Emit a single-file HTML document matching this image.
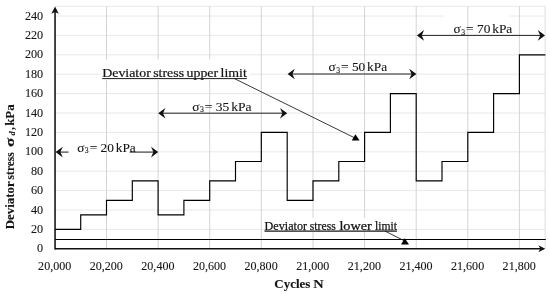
<!DOCTYPE html><html><head><meta charset="utf-8"><title>Chart</title><style>html,body{margin:0;padding:0;background:#fff}svg{display:block}text{font-family:"Liberation Serif",serif;fill:#151515;stroke:#151515;stroke-width:.1px}</style></head><body>
<svg width="550" height="294" viewBox="0 0 550 294">
<rect width="550" height="294" fill="#fff"/>
<g><line x1="54.9" x2="545.4" y1="229.4" y2="229.4" stroke="#e8e8e8" stroke-width="1"/><line x1="54.9" x2="545.4" y1="210.0" y2="210.0" stroke="#e8e8e8" stroke-width="1"/><line x1="54.9" x2="545.4" y1="190.6" y2="190.6" stroke="#e8e8e8" stroke-width="1"/><line x1="54.9" x2="545.4" y1="171.2" y2="171.2" stroke="#e8e8e8" stroke-width="1"/><line x1="54.9" x2="545.4" y1="151.8" y2="151.8" stroke="#e8e8e8" stroke-width="1"/><line x1="54.9" x2="545.4" y1="132.4" y2="132.4" stroke="#e8e8e8" stroke-width="1"/><line x1="54.9" x2="545.4" y1="113.0" y2="113.0" stroke="#e8e8e8" stroke-width="1"/><line x1="54.9" x2="545.4" y1="93.6" y2="93.6" stroke="#e8e8e8" stroke-width="1"/><line x1="54.9" x2="545.4" y1="74.2" y2="74.2" stroke="#e8e8e8" stroke-width="1"/><line x1="54.9" x2="545.4" y1="54.8" y2="54.8" stroke="#e8e8e8" stroke-width="1"/><line x1="54.9" x2="545.4" y1="35.4" y2="35.4" stroke="#e8e8e8" stroke-width="1"/><line x1="54.9" x2="545.4" y1="16.0" y2="16.0" stroke="#e8e8e8" stroke-width="1"/><line x1="54.9" x2="545.4" y1="6.3" y2="6.3" stroke="#e8e8e8" stroke-width="1"/><rect x="68.5" y="140" width="61" height="16" fill="#fff"/><rect x="443.8" y="10" width="65.5" height="20" fill="#fff"/><line x1="106.5" x2="106.5" y1="6.3" y2="248.65" stroke="#d4d4d4" stroke-width="1"/><line x1="158.1" x2="158.1" y1="6.3" y2="248.65" stroke="#d4d4d4" stroke-width="1"/><line x1="209.7" x2="209.7" y1="6.3" y2="248.65" stroke="#d4d4d4" stroke-width="1"/><line x1="261.3" x2="261.3" y1="6.3" y2="248.65" stroke="#d4d4d4" stroke-width="1"/><line x1="313.0" x2="313.0" y1="6.3" y2="248.65" stroke="#d4d4d4" stroke-width="1"/><line x1="364.6" x2="364.6" y1="6.3" y2="248.65" stroke="#d4d4d4" stroke-width="1"/><line x1="416.2" x2="416.2" y1="6.3" y2="248.65" stroke="#d4d4d4" stroke-width="1"/><line x1="467.8" x2="467.8" y1="6.3" y2="248.65" stroke="#d4d4d4" stroke-width="1"/><line x1="519.4" x2="519.4" y1="6.3" y2="248.65" stroke="#d4d4d4" stroke-width="1"/><line x1="545.1" x2="545.1" y1="6.3" y2="248.65" stroke="#dedede" stroke-width="1"/></g>
<rect x="101" y="59.5" width="148.5" height="20.5" fill="#fff"/>
<rect x="263" y="218" width="134.5" height="14" fill="#fff"/>
<path d="M54.9 229.4 V229.4 H80.7 V214.9 H106.5 V200.3 H132.3 V180.9 H158.1 V214.9 H183.9 V200.3 H209.7 V180.9 H235.5 V161.5 H261.3 V132.4 H287.2 V200.3 H313.0 V180.9 H338.8 V161.5 H364.6 V132.4 H390.4 V93.6 H416.2 V180.9 H442.0 V161.5 H467.8 V132.4 H493.6 V93.6 H519.4 V54.8 H545.4" fill="none" stroke="#000" stroke-width="1.15" stroke-linejoin="miter"/>
<line x1="54.9" x2="545.8" y1="239.45" y2="239.45" stroke="#000" stroke-width="1.1"/>
<line x1="55.05" x2="55.05" y1="10" y2="249.4" stroke="#111" stroke-width="1.55"/>
<line x1="54.9" x2="541" y1="248.65" y2="248.65" stroke="#111" stroke-width="1.5"/>
<path d="M55.05 6.5 L58.75 13.7 L55.05 12.0 L51.35 13.7 Z" fill="#111"/>
<path d="M545.3 248.65 L538.3 245.15 L540.4 248.65 L538.3 252.15 Z" fill="#111"/>
<line x1="57.6" x2="68.5" y1="152.1" y2="152.1" stroke="#222" stroke-width="1"/><line x1="129.6" x2="156.2" y1="152.1" y2="152.1" stroke="#222" stroke-width="1"/><path d="M55.6 152.1 L62.800000000000004 146.79999999999998 L60.4 152.1 L62.800000000000004 157.4 Z" fill="#111"/><path d="M158.2 152.1 L151.0 146.79999999999998 L153.39999999999998 152.1 L151.0 157.4 Z" fill="#111"/>
<line x1="160.2" x2="285.2" y1="113.2" y2="113.2" stroke="#222" stroke-width="1"/><path d="M158.2 113.2 L165.39999999999998 107.9 L163.0 113.2 L165.39999999999998 118.5 Z" fill="#111"/><path d="M287.2 113.2 L280.0 107.9 L282.4 113.2 L280.0 118.5 Z" fill="#111"/>
<line x1="289.6" x2="414.4" y1="74.0" y2="74.0" stroke="#222" stroke-width="1"/><path d="M287.6 74.0 L294.8 68.7 L292.40000000000003 74.0 L294.8 79.3 Z" fill="#111"/><path d="M416.4 74.0 L409.2 68.7 L411.59999999999997 74.0 L409.2 79.3 Z" fill="#111"/>
<line x1="418.9" x2="543.0" y1="35.4" y2="35.4" stroke="#222" stroke-width="1"/><path d="M416.9 35.4 L424.09999999999997 30.099999999999998 L421.7 35.4 L424.09999999999997 40.699999999999996 Z" fill="#111"/><path d="M545.0 35.4 L537.8 30.099999999999998 L540.2 35.4 L537.8 40.699999999999996 Z" fill="#111"/>
<text x="77.2" y="151.6" font-size="13.2" textLength="58.6" lengthAdjust="spacingAndGlyphs"><tspan>σ</tspan><tspan font-size="7.6" dy="1.7" dx="0.4">3</tspan><tspan dy="-1.7" dx="-2.3"> = 20</tspan><tspan dx="-1.5"> kPa</tspan></text>
<text x="192.2" y="110.5" font-size="13.2" textLength="59.2" lengthAdjust="spacingAndGlyphs"><tspan>σ</tspan><tspan font-size="7.6" dy="1.7" dx="0.4">3</tspan><tspan dy="-1.7" dx="-2.3"> = 35</tspan><tspan dx="-1.5"> kPa</tspan></text>
<text x="328.6" y="70.9" font-size="13.2" textLength="58.5" lengthAdjust="spacingAndGlyphs"><tspan>σ</tspan><tspan font-size="7.6" dy="1.7" dx="0.4">3</tspan><tspan dy="-1.7" dx="-2.3"> = 50</tspan><tspan dx="-1.5"> kPa</tspan></text>
<text x="453.6" y="32.8" font-size="13.2" textLength="58.7" lengthAdjust="spacingAndGlyphs"><tspan>σ</tspan><tspan font-size="7.6" dy="1.7" dx="0.4">3</tspan><tspan dy="-1.7" dx="-2.3"> = 70</tspan><tspan dx="-1.5"> kPa</tspan></text>
<line x1="234" y1="78.4" x2="355" y2="138" stroke="#222" stroke-width="0.9"/>
<path d="M355.4 134.2 L359.6 140.6 L351.8 140.6 Z" fill="#000"/>
<line x1="384.8" y1="231" x2="404" y2="240.6" stroke="#222" stroke-width="0.9"/>
<path d="M404.8 238.2 L409 244.5 L401 244.5 Z" fill="#000"/>
<text x="102.2" y="76.75" font-size="12" textLength="144.6" lengthAdjust="spacingAndGlyphs" style="word-spacing:-0.9px;stroke-width:.2px">Deviator stress upper limit</text>
<line x1="102.2" x2="246.8" y1="78.6" y2="78.6" stroke="#1a1a1a" stroke-width="1"/>
<text y="229.6" font-size="12" style="stroke-width:.25px"><tspan x="264.6" textLength="42.4" lengthAdjust="spacingAndGlyphs">Deviator</tspan> <tspan x="309.8" textLength="26" lengthAdjust="spacingAndGlyphs">stress</tspan> <tspan x="339.4" textLength="32.3" lengthAdjust="spacingAndGlyphs">lower</tspan> <tspan x="375.0" textLength="21.9" lengthAdjust="spacingAndGlyphs">limit</tspan></text>
<line x1="264.5" x2="396.9" y1="231.1" y2="231.1" stroke="#1a1a1a" stroke-width="1.2"/>
<text x="37.1" y="252.4" font-size="12.6" textLength="6.1" lengthAdjust="spacingAndGlyphs">0</text>
<text x="31.0" y="233.0" font-size="12.6" textLength="12.2" lengthAdjust="spacingAndGlyphs">20</text>
<text x="31.0" y="213.6" font-size="12.6" textLength="12.2" lengthAdjust="spacingAndGlyphs">40</text>
<text x="31.0" y="194.2" font-size="12.6" textLength="12.2" lengthAdjust="spacingAndGlyphs">60</text>
<text x="31.0" y="174.8" font-size="12.6" textLength="12.2" lengthAdjust="spacingAndGlyphs">80</text>
<text x="24.9" y="155.4" font-size="12.6" textLength="18.3" lengthAdjust="spacingAndGlyphs">100</text>
<text x="24.9" y="136.0" font-size="12.6" textLength="18.3" lengthAdjust="spacingAndGlyphs">120</text>
<text x="24.9" y="116.6" font-size="12.6" textLength="18.3" lengthAdjust="spacingAndGlyphs">140</text>
<text x="24.9" y="97.2" font-size="12.6" textLength="18.3" lengthAdjust="spacingAndGlyphs">160</text>
<text x="24.9" y="77.8" font-size="12.6" textLength="18.3" lengthAdjust="spacingAndGlyphs">180</text>
<text x="24.9" y="58.4" font-size="12.6" textLength="18.3" lengthAdjust="spacingAndGlyphs">200</text>
<text x="24.9" y="39.0" font-size="12.6" textLength="18.3" lengthAdjust="spacingAndGlyphs">220</text>
<text x="24.9" y="19.6" font-size="12.6" textLength="18.3" lengthAdjust="spacingAndGlyphs">240</text>
<text x="38.1" y="270.25" font-size="12.6" textLength="33.2" lengthAdjust="spacingAndGlyphs">20,000</text>
<text x="89.7" y="270.25" font-size="12.6" textLength="33.2" lengthAdjust="spacingAndGlyphs">20,200</text>
<text x="141.3" y="270.25" font-size="12.6" textLength="33.2" lengthAdjust="spacingAndGlyphs">20,400</text>
<text x="192.9" y="270.25" font-size="12.6" textLength="33.2" lengthAdjust="spacingAndGlyphs">20,600</text>
<text x="244.5" y="270.25" font-size="12.6" textLength="33.2" lengthAdjust="spacingAndGlyphs">20,800</text>
<text x="296.2" y="270.25" font-size="12.6" textLength="33.2" lengthAdjust="spacingAndGlyphs">21,000</text>
<text x="347.8" y="270.25" font-size="12.6" textLength="33.2" lengthAdjust="spacingAndGlyphs">21,200</text>
<text x="399.4" y="270.25" font-size="12.6" textLength="33.2" lengthAdjust="spacingAndGlyphs">21,400</text>
<text x="451.0" y="270.25" font-size="12.6" textLength="33.2" lengthAdjust="spacingAndGlyphs">21,600</text>
<text x="502.6" y="270.25" font-size="12.6" textLength="33.2" lengthAdjust="spacingAndGlyphs">21,800</text>
<text y="287.8" font-size="12" font-weight="bold"><tspan x="274.3" textLength="36" lengthAdjust="spacingAndGlyphs">Cycles</tspan> <tspan x="313.3" textLength="10.4" lengthAdjust="spacingAndGlyphs">N</tspan></text>
<text transform="translate(13.6 229.2) rotate(-90)" font-size="12" font-weight="bold"><tspan x="0" textLength="47.6" lengthAdjust="spacingAndGlyphs">Deviator</tspan> <tspan x="49.8" textLength="27.2" lengthAdjust="spacingAndGlyphs">stress</tspan> <tspan x="82.3" font-size="13" textLength="9.3" lengthAdjust="spacingAndGlyphs">σ</tspan><tspan x="94.0" dy="1.7" font-size="7.6" font-style="italic">d</tspan><tspan x="99.3" dy="-1.7">,</tspan> <tspan x="103.4" textLength="21.4" lengthAdjust="spacingAndGlyphs">kPa</tspan></text>
</svg></body></html>
